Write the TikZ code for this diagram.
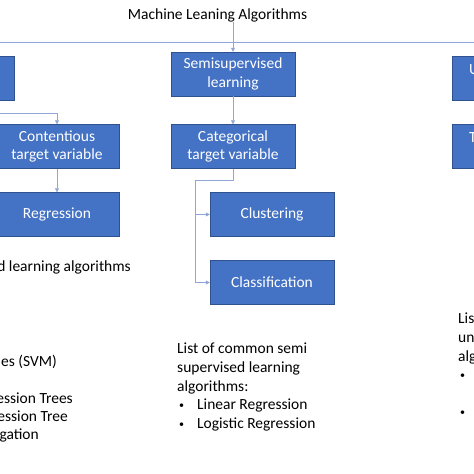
\documentclass[tikz,border=0pt]{standalone}
\usepackage{fontspec}
\setmainfont{Carlito}
\usetikzlibrary{positioning,arrows.meta}
\definecolor{boxblue}{HTML}{4472C4}
\definecolor{boxedge}{HTML}{2F528F}
\definecolor{linkblue}{HTML}{8FA6D6}
\newcommand{\bulletitem}{\makebox[20pt][l]{\hspace{2pt}\raisebox{1pt}{\fontsize{10}{10}\selectfont\textbullet}}}

\begin{document}
\begin{tikzpicture}[x=1pt, y=-1pt,
      font=\fontsize{15.5}{18.6}\selectfont,
      box/.style={draw=boxedge, fill=boxblue, text=white, align=center, minimum width=124pt, minimum height=44pt, inner sep=2pt},
      sidebox/.style={box, text width=90pt, inner xsep=17pt, align=left},
      arr/.style={-{Triangle[length=4pt, width=4pt]}, linkblue, semithick},
      conn/.style={linkblue, semithick},
      note/.style={align=left, inner sep=0pt}]
    \useasboundingbox (0,0) rectangle (474,474);
    \begin{scope}
    \clip (0,0) rectangle (474,474);
    % top row
    \node[inner sep=0pt] (title) at (217.5,15) {Machine Leaning Algorithms};
    \node[box] (semi) at (233,74) {Semisupervised\\learning};
    \node[box] (sup) at (-48,78.5) {};
    \node[sidebox] (uns) at (514,78.5) {U\\\mbox{}};
    % second and third rows
    \node[box] (cont) at (57,146.5) {Contentious\\target variable};
    \node[box] (reg) at (57,214.5) {Regression};
    \node[box] (cat) at (233,146.5) {Categorical\\target variable};
    \node[sidebox] (tgt) at (514,146.5) {T\\\mbox{}};
    \node[box] (clus) at (272,214.5) {Clustering};
    \node[box] (class) at (272,282.5) {Classification};
    % connectors
    \coordinate (bus) at (233,42);
    \coordinate (split) at (195,180);
    \draw[arr] (title.south -| semi.north) -- (semi.north);
    \draw[arr] (bus) -| (sup.north);
    \draw[arr] (bus) -| (uns.north);
    \draw[arr] (sup.south) -- ++(0,13) -| (cont.north);
    \draw[arr] (cont) -- (reg);
    \draw[arr] (semi) -- (cat);
    \draw[conn] (cat.south) |- (split) -- (split |- class.west);
    \draw[arr] (split |- clus.west) -- (clus.west);
    \draw[arr] (split |- class.west) -- (class.west);
    % lists
    \node[note, anchor=east] (suphead) at (131,267) {d learning algorithms};
    \node[note, anchor=east] (svm) at (57,362) {es (SVM)};
    \node[note, anchor=east] (trees) at (73,398) {ession Trees};
    \node[note, anchor=east] (tree) at (68,416.5) {ession Tree};
    \node[note, anchor=east] (gation) at (39,435) {gation};
    \node[note, anchor=north west] (semilist) at (177,343) {List of common semi\\supervised learning\\algorithms:\\\bulletitem Linear Regression\\\bulletitem Logistic Regression};
    \node[note, anchor=north west] (unslist) at (458,313) {Lis\\un\\alg\\\bulletitem\\\mbox{}\\\bulletitem};
    \end{scope}
  \end{tikzpicture}
\end{document}
